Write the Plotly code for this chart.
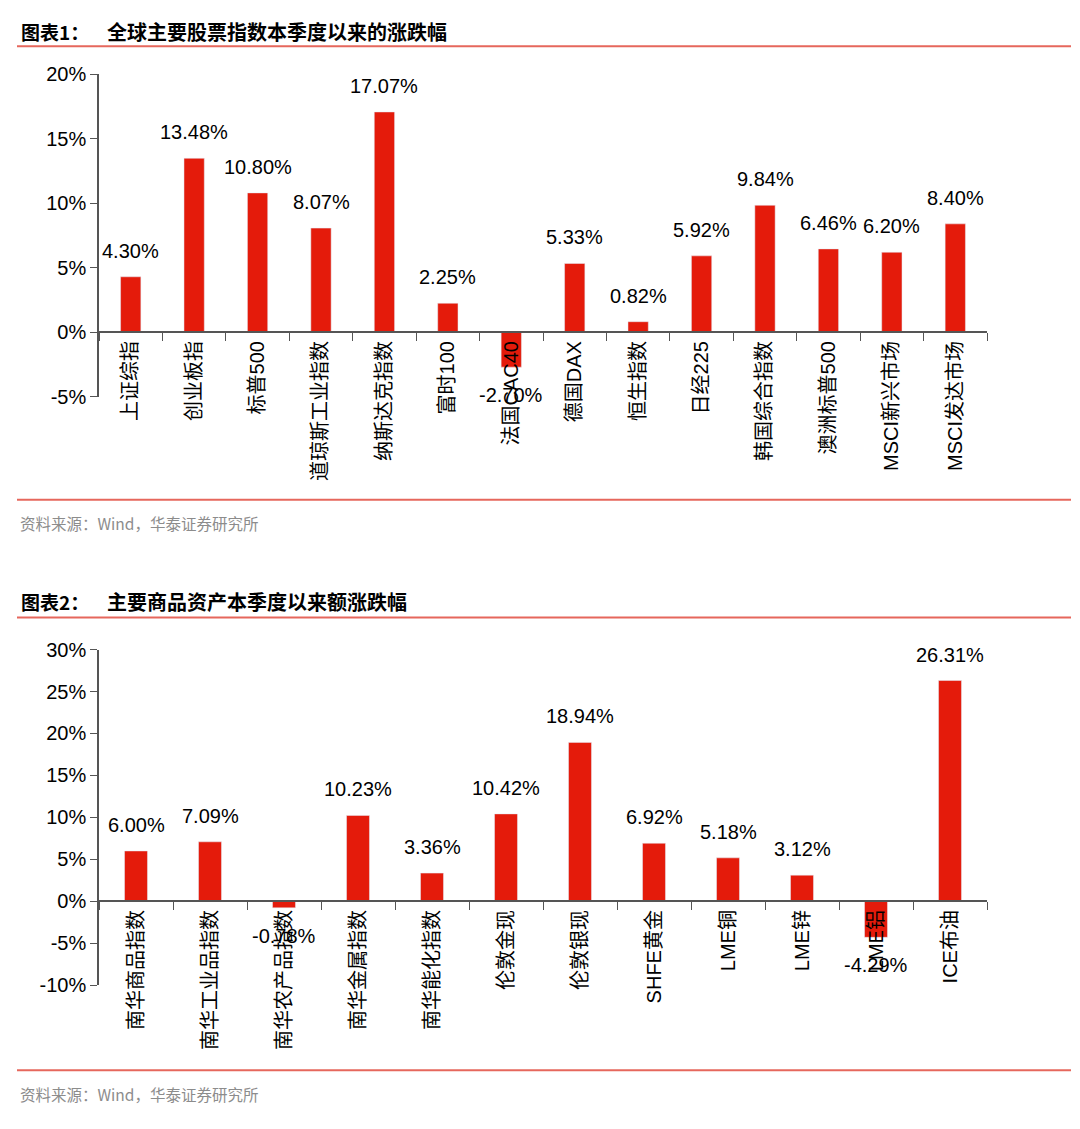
import plotly.graph_objects as go

W, H = 1080, 1129

# 图表1 数据
stock_names = ["上证综指", "创业板指", "标普500", "道琼斯工业指数", "纳斯达克指数", "富时100",
               "法国CAC40", "德国DAX", "恒生指数", "日经225", "韩国综合指数", "澳洲标普500",
               "MSCI新兴市场", "MSCI发达市场"]
stock_chg = [4.30, 13.48, 10.80, 8.07, 17.07, 2.25, -2.70, 5.33, 0.82, 5.92, 9.84, 6.46, 6.20, 8.40]
stock_ticks = [-5, 0, 5, 10, 15, 20]
stock_ticktext = ["-5%", "0%", "5%", "10%", "15%", "20%"]

# 图表2 数据
comm_names = ["南华商品指数", "南华工业品指数", "南华农产品指数", "南华金属指数", "南华能化指数",
              "伦敦金现", "伦敦银现", "SHFE黄金", "LME铜", "LME锌", "LME铝", "ICE布油"]
comm_chg = [6.00, 7.09, -0.78, 10.23, 3.36, 10.42, 18.94, 6.92, 5.18, 3.12, -4.29, 26.31]
comm_ticks = [-10, -5, 0, 5, 10, 15, 20, 25, 30]
comm_ticktext = ["-10%", "-5%", "0%", "5%", "10%", "15%", "20%", "25%", "30%"]

RED = "#E41B0B"
LINE_RED = "#E6675C"
FONT = "Liberation Sans, Arial, Noto Sans CJK SC"
CJK = "Noto Sans CJK SC"


# page pixel -> paper fraction (corrected for how the page gets shot)
def py(p):
    return 1 - ((p - 17.8) / 0.9815) / H


def px(p):
    return (p - 7) / W


fig = go.Figure()

charts = [
    dict(names=stock_names, vals=stock_chg, rng=[-5, 20], ticks=stock_ticks,
         ticktext=stock_ticktext, top=73, bot=396, idx="", width=0.32),
    dict(names=comm_names, vals=comm_chg, rng=[-10, 30], ticks=comm_ticks,
         ticktext=comm_ticktext, top=649, bot=985, idx="2", width=0.31),
]

annotations = []
for c in charts:
    xa = "x" + c["idx"]
    ya = "y" + c["idx"]
    fig.add_trace(go.Bar(x=c["names"], y=c["vals"], marker_color=RED, xaxis=xa, yaxis=ya,
                         showlegend=False, width=c["width"]))
    for n, v in zip(c["names"], c["vals"]):
        annotations.append(dict(x=n, y=v, xref=xa, yref=ya, text="%.2f%%" % v, showarrow=False,
                                yshift=26 if v >= 0 else -28,
                                font=dict(family=FONT, size=20, color="black")))
    d0, d1 = py(c["bot"]), py(c["top"])
    lo, hi = c["rng"]
    zero_pos = d0 + (0 - lo) / (hi - lo) * (d1 - d0)
    fig.layout["xaxis" + c["idx"]] = dict(
        domain=[px(98), px(986)], anchor="free", position=zero_pos, showline=True,
        linecolor="#555555", linewidth=1.5, ticks="outside", ticklen=8, tickcolor="#555555",
        tickson="boundaries", tickangle=-90, showgrid=False, fixedrange=True,
        tickfont=dict(family=FONT, size=20, color="black"))
    fig.layout["yaxis" + c["idx"]] = dict(
        domain=[d0, d1], range=c["rng"], tickvals=c["ticks"], ticktext=c["ticktext"],
        showline=True, linecolor="#555555", linewidth=1.5, ticks="outside", ticklen=7,
        tickcolor="#555555", showgrid=False, zeroline=False, anchor=xa, fixedrange=True,
        tickfont=dict(family=FONT, size=20, color="black"))

titles = [("图表1：", "全球主要股票指数本季度以来的涨跌幅", 30),
          ("图表2：", "主要商品资产本季度以来额涨跌幅", 601)]
for a, b, y in titles:
    annotations.append(dict(x=px(18), y=py(y), xref="paper", yref="paper", text="<b>%s</b>" % a,
                            showarrow=False, xanchor="left", yanchor="middle",
                            font=dict(family=CJK, size=19, color="black")))
    annotations.append(dict(x=px(104), y=py(y), xref="paper", yref="paper", text="<b>%s</b>" % b,
                            showarrow=False, xanchor="left", yanchor="middle",
                            font=dict(family=CJK, size=20, color="black")))

for y in [522, 1094]:
    annotations.append(dict(x=px(17), y=py(y), xref="paper", yref="paper",
                            text="资料来源：Wind，华泰证券研究所", showarrow=False,
                            xanchor="left", yanchor="middle",
                            font=dict(family=CJK, size=15.5, color="#8C8C8C")))

shapes = []
for y in [45, 499, 617, 1070]:
    shapes.append(dict(type="line", xref="paper", yref="paper", x0=px(16), x1=px(1070),
                       y0=py(y), y1=py(y), line=dict(color=LINE_RED, width=2)))

fig.update_layout(width=W, height=H, margin=dict(l=0, r=0, t=0, b=0),
                  paper_bgcolor="white", plot_bgcolor="white",
                  annotations=annotations, shapes=shapes)

fig.write_html("out.html")
